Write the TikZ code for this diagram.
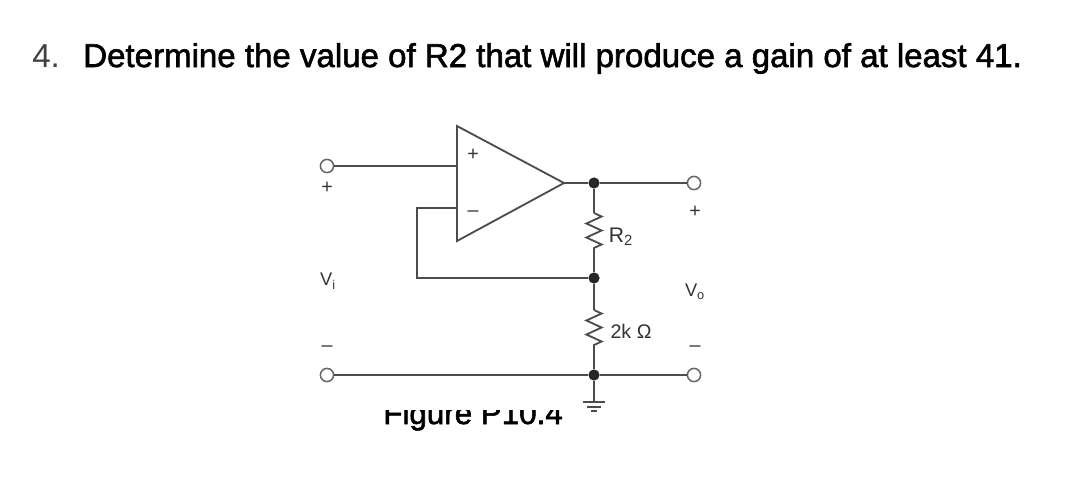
\documentclass[tikz,border=0pt]{standalone}
\usepackage{fontspec}
\setmainfont{Liberation Sans}
\newfontfamily\titlefont[FakeBold=1.8]{Liberation Sans}
\usetikzlibrary{decorations.pathmorphing}

\tikzset{
	wire/.style={draw=black!70, line width=1.3pt},
	resistor/.style={wire, decorate, decoration={zigzag, amplitude=0.19cm, segment length=0.35cm}},
	terminal/.style={circle, draw=black!60, fill=white, line width=1.1pt, minimum size=0.33cm, inner sep=0pt},
	junction/.style={circle, fill=black!85, minimum size=0.28cm, inner sep=0pt},
	label/.style={font=\fontsize{13}{15}\selectfont, text=black!80, inner sep=0pt},
	sign/.style={font=\fontsize{14}{16}\selectfont, text=black!80, inner sep=0pt}
}

\begin{document}
\begin{tikzpicture}[x=0.025cm, y=-0.025cm]
		\useasboundingbox (0,0) rectangle (1080,495);

		\node[anchor=base west, inner sep=0pt, text=black!75, font=\fontsize{23.6}{28}\selectfont] (number) at (32,67) {4.};
		\node[anchor=base west, inner sep=0pt, text=black, font=\fontsize{23.5}{28}\selectfont\titlefont] (title) at (83,67) {Determine the value of R2 that will produce a gain of at least 41.};

		% amplifier
		\path[wire] (457,126) -- (457,241) -- (564,183) -- cycle;
		\coordinate (plus) at (457,166);
		\coordinate (minus) at (457,208);
		\coordinate (out) at (564,183);

		\node[terminal] (inp) at (327,166) {};
		\node[terminal] (inn) at (327,375) {};
		\node[terminal] (outp) at (694,183) {};
		\node[terminal] (outn) at (694,375) {};

		\node[junction] (top) at (594,183) {};
		\node[junction] (mid) at (594,278) {};
		\node[junction] (bot) at (594,375) {};

		\coordinate (corner1) at (417,208);
		\coordinate (corner2) at (417,278);

		\coordinate (r2a) at (594,213);
		\coordinate (r2b) at (594,255);
		\coordinate (r1a) at (594,310);
		\coordinate (r1b) at (594,352);
		\coordinate (gnd) at (594,402);

		\path[wire] (inp) -- (plus);
		\path[wire] (out) -- (top) -- (outp);
		\path[wire] (minus) -- (corner1) -- (corner2) -- (mid);
		\path[wire] (inn) -- (bot) -- (outn);
		\path[wire] (top) -- (r2a);
		\path[resistor] (r2a) -- (r2b);
		\path[wire] (r2b) -- (mid) -- (r1a);
		\path[resistor] (r1a) -- (r1b);
		\path[wire] (r1b) -- (bot) -- (gnd);

		% ground
		\path[wire] (583,402) -- (605,402);
		\path[wire] (587,407) -- (601,407);
		\path[wire] (591,411) -- (597,411);

		\node[sign] (ampplus) at (473,155) {+};
		\node[sign] (ampminus) at (473,214) {\textendash};
		\node[sign] (inplus) at (327,188) {+};
		\node[sign] (inminus) at (327,349) {\textendash};
		\node[sign] (outplus) at (695,212) {+};
		\node[sign] (outminus) at (695,349) {\textendash};

		\node[label] (vi) at (328,281) {V\textsubscript{i}};
		\node[label] (vo) at (695,292) {V\textsubscript{o}};
		\node[label, font=\fontsize{15}{17}\selectfont] (rtwo) at (621,237) {R\textsubscript{2}};
		\node[label, font=\fontsize{14}{16}\selectfont] (rone) at (631,331) {2k Ω};

		% caption, its top is cut off
		\begin{scope}
			\clip (370,410) rectangle (580,440);
			\node[anchor=base west, inner sep=0pt, text=black, font=\fontsize{22.3}{26}\selectfont\titlefont] (caption) at (383,424) {Figure P10.4};
		\end{scope}
	\end{tikzpicture}
\end{document}
